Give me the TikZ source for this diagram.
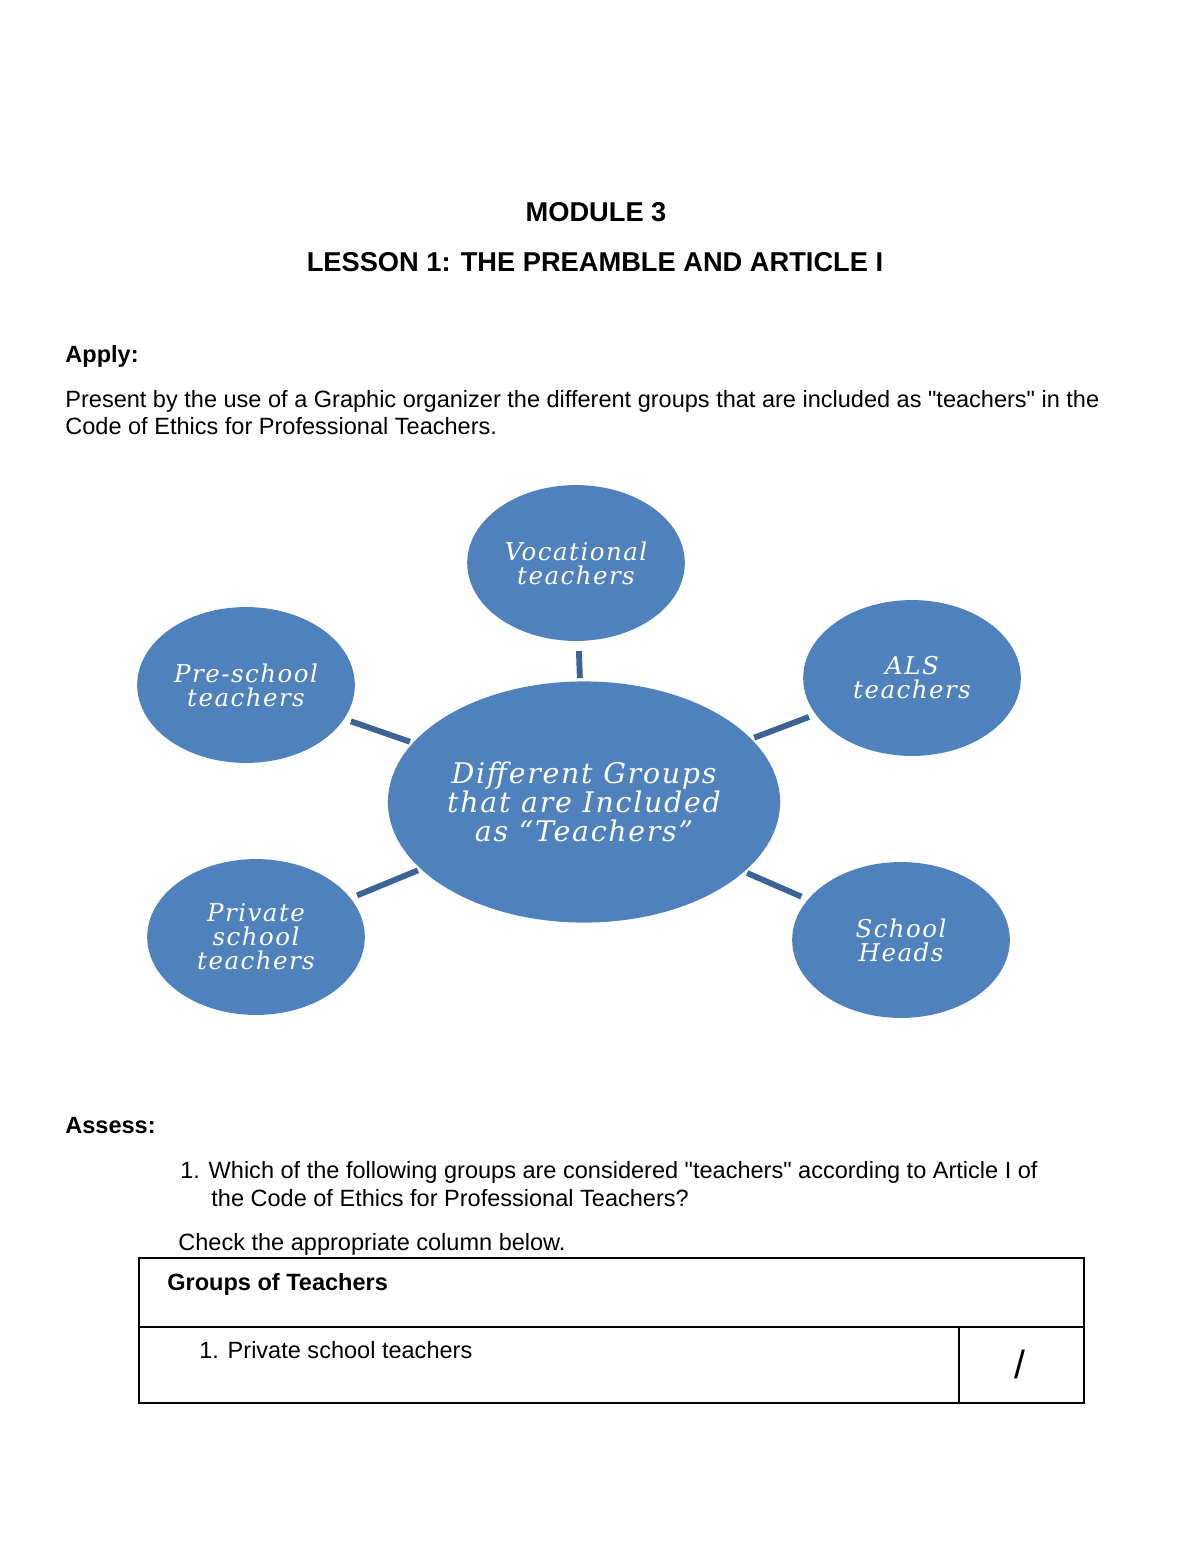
\documentclass[tikz,border=0pt]{standalone}
\usepackage{fontspec}
\setmainfont{Liberation Sans}[Ligatures=TeXOff]
\newfontfamily\ellfont[LetterSpace=6]{DejaVu Serif}
\usetikzlibrary{shapes.geometric}
\definecolor{bblue}{HTML}{4F81BD}
\definecolor{cblue}{HTML}{3B6494}
\begin{document}
\begin{tikzpicture}[x=0.51pt,y=-0.51pt,
  bub/.style={ellipse, fill=bblue, text=white, inner sep=0pt, align=center,
    minimum width=111pt, minimum height=79.5pt,
    font=\ellfont\itshape\fontsize{12.5}{12.2}\selectfont},
  bigbub/.style={bub, minimum width=200pt, minimum height=123pt,
    font=\ellfont\itshape\fontsize{14.5}{14.8}\selectfont},
  conn/.style={draw=cblue, line width=3pt},
  body/.style={anchor=mid west, inner sep=0pt, font=\fontsize{12}{14}\selectfont},
  bodyb/.style={body, font=\bfseries\fontsize{12}{14}\selectfont},
  head/.style={inner sep=0pt, font=\bfseries\fontsize{13.9}{16}\selectfont},
  tline/.style={line width=1.4pt}]
\useasboundingbox (0,0) rectangle (1200,1553);

% titles
\node[head] (t1) at (596,212) {MODULE 3};
\node[head] (t2) at (595,262) {LESSON 1: THE PREAMBLE AND ARTICLE I};
\node[bodyb] (apply) at (65,357) {Apply:};
\node[body] (p1) at (65,402) {Present by the use of a Graphic organizer the different groups that are included as "teachers" in the};
\node[body] (p2) at (65,429) {Code of Ethics for Professional Teachers.};

% organizer
\node[bigbub] (ctr) at (584,802) {Different Groups\\that are Included\\as “Teachers”};
\node[bub] (voc) at (576,563) {Vocational\\teachers};
\node[bub] (pre) at (246,685) {Pre-school\\teachers};
\node[bub] (als) at (912,678) {ALS\\teachers};
\node[bub] (pri) at (256,937) {Private\\school\\teachers};
\node[bub] (sh) at (901,940) {School\\Heads};

\draw[conn, shorten <=5pt, shorten >=1.5pt] (voc) -- (ctr);
\draw[conn, shorten <=3.5pt, shorten >=1.5pt] (pre) -- (ctr);
\draw[conn, shorten <=3.5pt, shorten >=1.5pt] (als) -- (ctr);
\draw[conn, shorten <=3.5pt, shorten >=1.5pt] (pri) -- (ctr);
\draw[conn, shorten <=3.5pt, shorten >=1.5pt] (sh) -- (ctr);

% assess
\node[bodyb] (assess) at (65,1128) {Assess:};
\node[body] (q1) at (180,1173) {1. Which of the following groups are considered "teachers" according to Article I of};
\node[body] (q2) at (211,1201) {the Code of Ethics for Professional Teachers?};
\node[body] (chk) at (178,1245) {Check the appropriate column below.};

% table
\draw[tline] (139,1258) rectangle (1084,1403);
\draw[tline] (139,1327) -- (1084,1327);
\draw[tline] (959,1327) -- (959,1403);
\node[bodyb] (th) at (167,1285) {Groups of Teachers};
\node[body] (r1) at (199,1353) {1. Private school teachers};
\node[inner sep=0pt, font=\fontsize{20}{22}\selectfont] (mark) at (1020,1364) {/};
\end{tikzpicture}
\end{document}
